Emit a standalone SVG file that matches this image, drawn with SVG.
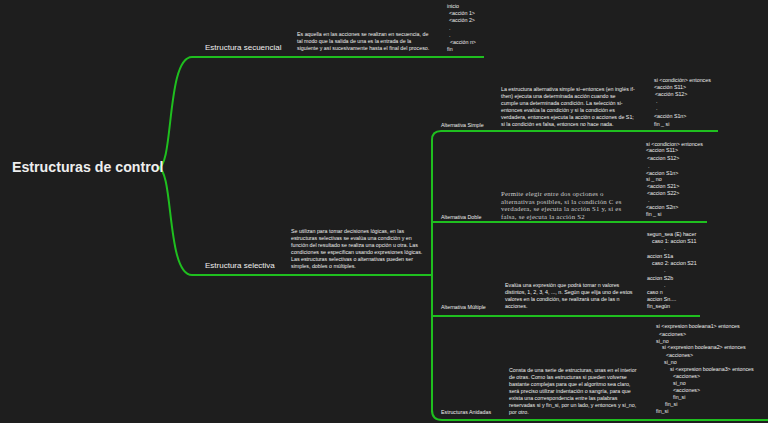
<svg xmlns="http://www.w3.org/2000/svg" width="768" height="423" viewBox="0 0 768 423">
<style>
text{font-family:"Liberation Sans",Arial,sans-serif;fill:#eeeeee}
.s{font-size:5.3px}
.n{font-size:8px}
.r{font-size:6.8px;letter-spacing:0.2px;font-family:"Liberation Serif","Times New Roman",serif;fill:#cccccc}
.c{fill:none;stroke:#1fbf1f;stroke-width:2}
</style>
<rect width="768" height="423" fill="#1e1e1e"/>
<g id="connectors">
<path class="c" d="M158,168 C174,168 166,57 192,57 H484"/>
<path class="c" d="M158,168 C174,168 166,275 192,275 H432"/>
<path class="c" d="M432,412 V140 Q432,131 441,131 H718"/>
<path class="c" d="M432,410 Q432,420 442,420 H768"/>
<path class="c" d="M432,222 H707"/>
<path class="c" d="M432,316 H700"/>
</g>
<g id="root"><text x="12" y="172" font-size="14.2" font-weight="bold">Estructuras de control</text></g>
<g id="secuencial">
<text class="n" x="205" y="50">Estructura secuencial</text>
<text class="s" x="297" y="36">Es aquella en las acciones se realizan en secuencia, de</text>
<text class="s" x="297" y="43">tal modo que la salida de una es la entrada de la</text>
<text class="s" x="297" y="50">siguiente y así sucesivamente hasta el final del proceso.</text>
<text class="s" x="447" y="8">inicio</text>
<text class="s" x="449" y="15">&lt;acción 1&gt;</text>
<text class="s" x="449" y="22">&lt;acción 2&gt;</text>
<text class="s" x="449" y="30">.</text>
<text class="s" x="449" y="37">.</text>
<text class="s" x="450" y="44">&lt;acción n&gt;</text>
<text class="s" x="447" y="51">fin</text>
</g>
<g id="selectiva">
<text class="n" x="205" y="268">Estructura selectiva</text>
<text class="s" x="291" y="233">Se utilizan para tomar decisiones lógicas, en las</text>
<text class="s" x="291" y="240">estructuras selectivas se evalúa una condición y en</text>
<text class="s" x="291" y="247">función del resultado se realiza una opción u otra. Las</text>
<text class="s" x="291" y="254">condiciones se especifican usando expresiones lógicas.</text>
<text class="s" x="291" y="261">Las estructuras selectivas o alternativas pueden ser</text>
<text class="s" x="291" y="268">simples, dobles o múltiples.</text>
</g>
<g id="simple">
<text class="s" x="441" y="127">Alternativa Simple</text>
<text class="s" x="501" y="91">La estructura alternativa simple si–entonces (en inglés if-</text>
<text class="s" x="501" y="98">then) ejecuta una determinada acción cuando se</text>
<text class="s" x="501" y="105">cumple una determinada condición. La selección si-</text>
<text class="s" x="501" y="112">entonces evalúa la condición y si la condición es</text>
<text class="s" x="501" y="119">verdadera, entonces ejecuta la acción o acciones de S1;</text>
<text class="s" x="501" y="126">si la condición es falsa, entonces no hace nada.</text>
<text class="s" x="654" y="82">si &lt;condición&gt; entonces</text>
<text class="s" x="654" y="89">&lt;acción S11&gt;</text>
<text class="s" x="655" y="96">&lt;acción S12&gt;</text>
<text class="s" x="656" y="103">.</text>
<text class="s" x="656" y="110">.</text>
<text class="s" x="654" y="118">&lt;acción S1n&gt;</text>
<text class="s" x="654" y="126">fin _ si</text>
</g>
<g id="doble">
<text class="s" x="441" y="219">Alternativa Doble</text>
<text class="r" x="501" y="196">Permite elegir entre dos opciones o</text>
<text class="r" x="501" y="203.5">alternativas posibles, si la condición C es</text>
<text class="r" x="501" y="211">verdadera, se ejecuta la acción S1 y, si es</text>
<text class="r" x="501" y="218.5">falsa, se ejecuta la acción S2</text>
<text class="s" x="646" y="146">si &lt;condicion&gt; entonces</text>
<text class="s" x="646" y="152">&lt;accion S11&gt;</text>
<text class="s" x="647" y="160">&lt;accion S12&gt;</text>
<text class="s" x="648" y="168">.</text>
<text class="s" x="646" y="175">&lt;accion S1n&gt;</text>
<text class="s" x="646" y="181">si _ no</text>
<text class="s" x="647" y="188">&lt;accion S21&gt;</text>
<text class="s" x="647" y="195">&lt;accion S22&gt;</text>
<text class="s" x="648" y="202">.</text>
<text class="s" x="646" y="209">&lt;accion S2n&gt;</text>
<text class="s" x="646" y="216">fin _ si</text>
</g>
<g id="multiple">
<text class="s" x="441" y="309">Alternativa Múltiple</text>
<text class="s" x="505" y="287">Evalúa una expresión que podrá tomar n valores</text>
<text class="s" x="505" y="294">distintos, 1, 2, 3, 4, ..., n. Según que elija uno de estos</text>
<text class="s" x="505" y="301">valores en la condición, se realizará una de las n</text>
<text class="s" x="505" y="308">acciones.</text>
<text class="s" x="647" y="236">segun_sea  (E) hacer</text>
<text class="s" x="652" y="243">caso 1: accion S11</text>
<text class="s" x="664" y="250">.</text>
<text class="s" x="647" y="258">accion S1a</text>
<text class="s" x="652" y="265">caso 2: accion S21</text>
<text class="s" x="664" y="272">.</text>
<text class="s" x="647" y="280">accion S2b</text>
<text class="s" x="664" y="287">.</text>
<text class="s" x="647" y="294">caso n</text>
<text class="s" x="647" y="301">accion Sn....</text>
<text class="s" x="647" y="308">fin_según</text>
</g>
<g id="anidadas">
<text class="s" x="441" y="414">Estructuras  Anidadas</text>
<text class="s" x="509" y="372">Consta de una serie de estructuras, unas en el interior</text>
<text class="s" x="509" y="379">de otras. Como las estructuras si pueden volverse</text>
<text class="s" x="509" y="386">bastante complejas para que el algoritmo sea claro,</text>
<text class="s" x="509" y="393">será preciso utilizar indentación o sangría, para que</text>
<text class="s" x="509" y="400">exista una correspondencia entre las palabras</text>
<text class="s" x="509" y="407">reservadas si y fin_si, por un lado, y entonces y si_no,</text>
<text class="s" x="509" y="414">por otro.</text>
<text class="s" x="656" y="328">si &lt;expresion booleana1&gt; entonces</text>
<text class="s" x="659" y="336">&lt;acciones&gt;</text>
<text class="s" x="656" y="343">si_no</text>
<text class="s" x="662" y="349">si &lt;expresion booleana2&gt; entonces</text>
<text class="s" x="666" y="357">&lt;acciones&gt;</text>
<text class="s" x="664" y="364">si_no</text>
<text class="s" x="670" y="371">si &lt;expresion booleana3&gt; entonces</text>
<text class="s" x="673" y="378">&lt;acciones&gt;</text>
<text class="s" x="673" y="385">si_no</text>
<text class="s" x="673" y="392">&lt;acciones&gt;</text>
<text class="s" x="673" y="399">fin_si</text>
<text class="s" x="665" y="406">fin_si</text>
<text class="s" x="656" y="413">fin_si</text>
</g>
</svg>
